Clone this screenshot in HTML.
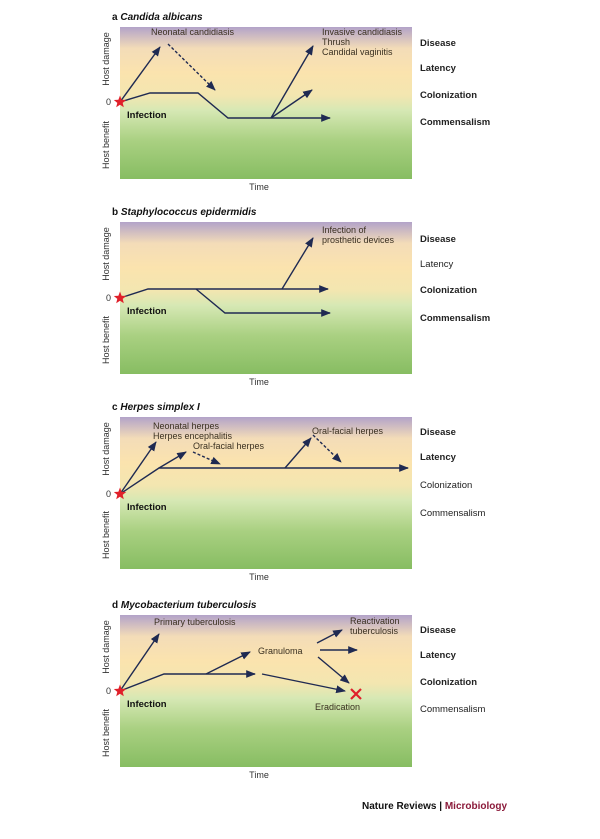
<!DOCTYPE html>
<html><head><meta charset="utf-8"><style>
body{margin:0;background:#fff;width:600px;height:834px;overflow:hidden;font-family:"Liberation Sans",Arial,sans-serif}
svg text{font-family:"Liberation Sans",Arial,sans-serif}
</style></head><body>
<svg id="chart" width="600" height="834" xmlns="http://www.w3.org/2000/svg">
<defs>
<linearGradient id="bg" x1="0" y1="0" x2="0" y2="1">
<stop offset="0" stop-color="#b3a3c9"/><stop offset="0.14" stop-color="#f3dcb8"/><stop offset="0.3" stop-color="#fbe3ae"/><stop offset="0.45" stop-color="#f3e6b0"/><stop offset="0.55" stop-color="#d6e8b4"/><stop offset="0.75" stop-color="#a9d081"/><stop offset="1" stop-color="#87bd62"/>
</linearGradient>
<marker id="ah" viewBox="0 0 10 10" refX="9" refY="5" markerWidth="7" markerHeight="7" orient="auto"><path d="M0,1 L10,5 L0,9 Z" fill="#1f2a52"/></marker>
</defs>
<g id="root"></g>
<text x="362" y="809" font-size="10" font-weight="bold" fill="#111">Nature Reviews | <tspan fill="#8b1a3a">Microbiology</tspan></text>
</svg>
<script>
// Panels: title, box top, zero line (pixel y), right labels & weights
const panelTitles = ["Candida albicans","Staphylococcus epidermidis","Herpes simplex I","Mycobacterium tuberculosis"];
const panelLetters = ["a","b","c","d"];
const panelTops = [27,222,417,615];
const panelZeros = [102,298,494,691];
const stageNames = ["Disease","Latency","Colonization","Commensalism"];
const stageOffsets = [[16,41,68,95],[17,42,68,96],[15,40,68,96],[15,40,67,94]];
const stageBold = [[1,1,1,1],[1,0,1,1],[1,1,0,0],[1,1,1,0]];
// Paths in (time, damage) units relative to origin; dashed flag; arrow flag
const pathsA = [
 {p:[[0,0],[40,55]],a:1},
 {p:[[0,0],[30,9],[78,9],[108,-16],[151,-16],[210,-16]],a:1},
 {p:[[151,-16],[193,56]],a:1},
 {p:[[151,-16],[192,12]],a:1},
 {p:[[48,58],[95,12]],a:1,d:1}];
const pathsB = [
 {p:[[0,0],[28,9],[208,9]],a:1},
 {p:[[76,9],[105,-15],[210,-15]],a:1},
 {p:[[162,9],[193,60]],a:1}];
const pathsC = [
 {p:[[0,0],[36,52]],a:1},
 {p:[[0,0],[39,26],[288,26]],a:1},
 {p:[[39,26],[66,42]],a:1},
 {p:[[73,42],[100,30]],a:1,d:1},
 {p:[[165,26],[191,56]],a:1},
 {p:[[193,59],[221,32]],a:1,d:1}];
const pathsD = [
 {p:[[0,0],[39,57]],a:1},
 {p:[[0,0],[44,17],[135,17]],a:1},
 {p:[[86,17],[130,39]],a:1},
 {p:[[142,17],[225,0]],a:1},
 {p:[[197,48],[222,61]],a:1},
 {p:[[200,41],[237,41]],a:1},
 {p:[[198,34],[229,8]],a:1}];
const allPaths = [pathsA,pathsB,pathsC,pathsD];
const labelsA = [["Neonatal candidiasis",31,67],["Invasive candidiasis",202,67],["Thrush",202,57],["Candidal vaginitis",202,47]];
const labelsB = [["Infection of",202,65],["prosthetic devices",202,55]];
const labelsC = [["Neonatal herpes",33,65],["Herpes encephalitis",33,55],["Oral-facial herpes",73,45],["Oral-facial herpes",192,60]];
const labelsD = [["Primary tuberculosis",34,66],["Granuloma",138,37],["Reactivation",230,67],["tuberculosis",230,57],["Eradication",195,-19]];
const allLabels = [labelsA,labelsB,labelsC,labelsD];
const NS="http://www.w3.org/2000/svg";
const root=document.getElementById('root');
function mk(tag,attrs,parent){const e=document.createElementNS(NS,tag);for(const k in attrs)e.setAttribute(k,attrs[k]);(parent||root).appendChild(e);return e;}
const X0=120, BW=292, BH=152;
panelTops.forEach((top,i)=>{
 const zero=panelZeros[i];
 const xs=t=>X0+t, ys=d=>zero-d;
 const g=mk('g',{});
 
 
 const bg=mk('rect',{x:X0,y:top,width:BW,height:BH,fill:'url(#bg)'},g);
 
 
 const tt=mk('text',{x:112,y:top-7,'font-size':10,'font-weight':'bold',fill:'#111'},g);
 tt.innerHTML='<tspan>'+panelLetters[i]+'  </tspan><tspan font-style="italic">'+panelTitles[i]+'</tspan>';
 
 
 const hd=mk('text',{x:0,y:0,'font-size':9,fill:'#333','text-anchor':'middle',transform:`translate(109,${top+32}) rotate(-90)`},g);hd.textContent='Host damage';
 
 
 const hb=mk('text',{x:0,y:0,'font-size':9,fill:'#333','text-anchor':'middle',transform:`translate(109,${top+118}) rotate(-90)`},g);hb.textContent='Host benefit';
 
 
 const z=mk('text',{x:106,y:zero+3,'font-size':9,fill:'#333'},g);z.textContent='0';
 
 
 const tm=mk('text',{x:259,y:top+BH+11,'font-size':9,fill:'#333','text-anchor':'middle'},g);tm.textContent='Time';
 
 
 stageNames.forEach((s,j)=>{const t=mk('text',{x:420,y:top+stageOffsets[i][j]+3,'font-size':9.5,'font-weight':stageBold[i][j]?'bold':'normal',fill:'#222'},g);t.textContent=s;
  
  });
 allPaths[i].forEach(pp=>{
  const pts=pp.p.map(q=>xs(q[0])+','+ys(q[1])).join(' ');
  const pl=mk('polyline',{points:pts,fill:'none',stroke:'#1f2a52','stroke-width':1.4,'marker-end':pp.a?'url(#ah)':''},g);
  if(pp.d)pl.setAttribute('stroke-dasharray','3,2');
  
  
 });
 allLabels[i].forEach(l=>{const t=mk('text',{x:xs(l[1]),y:ys(l[2]),'font-size':9,fill:'#3a3020'},g);t.textContent=l[0];
  
  });
 const inf=mk('text',{x:127,y:zero+16,'font-size':9.5,'font-weight':'bold',fill:'#111'},g);inf.textContent='Infection';
 
 
 // star
 let sp='';for(let k=0;k<10;k++){const r=k%2?2.8:6.5,a=-Math.PI/2+k*Math.PI/5;sp+=(k?'L':'M')+(X0+r*Math.cos(a)).toFixed(1)+','+(zero+r*Math.sin(a)).toFixed(1);}
 const st=mk('path',{d:sp+'Z',fill:'#e0202a'},g);
 
 
 if(i===3){const xx=mk('path',{d:`M${xs(231)},${ys(2)} l10,10 M${xs(241)},${ys(2)} l-10,10`,stroke:'#e0202a','stroke-width':2.2},g);
  
  }
});
</script>
</body></html>
